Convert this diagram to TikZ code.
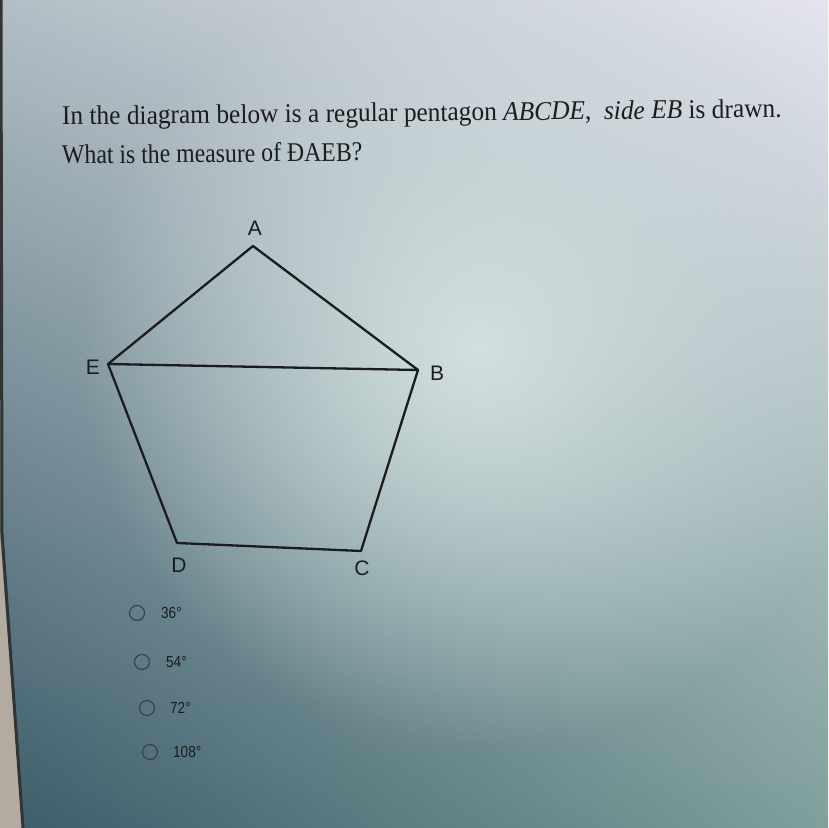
\documentclass[tikz,border=0pt]{standalone}
\usepackage{fontspec}
\setmainfont{Liberation Serif}
\newfontfamily\labelfont{Liberation Sans}
\usepackage{xcolor}
\usetikzlibrary{fadings,shadings}

\definecolor{screenUL}{HTML}{B2BEC5}
\definecolor{screenUR}{HTML}{E4E4EE}
\definecolor{screenLL}{HTML}{3B5C69}
\definecolor{screenLR}{HTML}{7FA09C}
\definecolor{glow}{HTML}{D2E1DF}
\definecolor{wall}{HTML}{B3AAA0}
\definecolor{ink}{HTML}{1C1C1E}
\definecolor{ring}{HTML}{34444A}

\tikzfading[name=glowfade, inner color=transparent!0, outer color=transparent!100]

\begin{document}
\begin{tikzpicture}[x=1pt, y=1pt,
	side/.style={line width=2.3pt, color=ink, line join=round},
	vlabel/.style={font=\labelfont\fontsize{21}{21}\selectfont, text=ink, inner sep=0pt},
	choice/.style={circle, draw=ring, line width=1.2pt, minimum size=15pt, inner sep=0pt},
	choicetext/.style={anchor=west, inner sep=0pt, text=ink, font=\labelfont\fontsize{16}{16}\selectfont, xscale=0.85}]
	\useasboundingbox (0,0) rectangle (828,828);

	% Screen background
	\shade[upper left=screenUL, upper right=screenUR, lower left=screenLL, lower right=screenLR] (0,0) rectangle (828,828);
	\fill[glow, path fading=glowfade] (480,480) circle (400);
	\fill[wall] (0,0) -- (22,0) -- (0,295) -- cycle;
	\draw[line width=3pt, black!80] (23,0) -- (2,295) -- (1,828);

	% Question
	\node[anchor=base west, inner sep=0pt, text=ink, rotate=0.6] (q1) at (62,703)
		{\fontsize{27}{27}\selectfont\scalebox{0.94}[1]{In the diagram below is a regular pentagon \textit{ABCDE},\ \ \textit{side EB} is drawn.}};
	\node[anchor=base west, inner sep=0pt, text=ink, rotate=0.6] (q2) at (62,664)
		{\fontsize{27}{27}\selectfont\scalebox{0.88}[1]{What is the measure of ÐAEB?}};

	% Pentagon vertices
	\coordinate (A) at (253,582);
	\coordinate (B) at (418,458);
	\coordinate (C) at (361,277);
	\coordinate (D) at (177,285);
	\coordinate (E) at (108,464);

	\node[vlabel] (lA) at (255,600) {A};
	\node[vlabel] (lB) at (437,455) {B};
	\node[vlabel] (lC) at (362,260) {C};
	\node[vlabel] (lD) at (179,263) {D};
	\node[vlabel] (lE) at (93,461) {E};

	% Draw the sides and the segment EB
	\draw[side] (A) -- (B) -- (C) -- (D) -- (E) -- cycle;
	\draw[side] (E) -- (B);

	% Answer choices
	\node[choice] (o1) at (137,215) {};
	\node[choice] (o2) at (142,166) {};
	\node[choice] (o3) at (147,120) {};
	\node[choice] (o4) at (150,76) {};

	\node[choicetext] (t1) at (161,215) {36°};
	\node[choicetext] (t2) at (166,166) {54°};
	\node[choicetext] (t3) at (170,120) {72°};
	\node[choicetext] (t4) at (173,76) {108°};
\end{tikzpicture}
\end{document}
